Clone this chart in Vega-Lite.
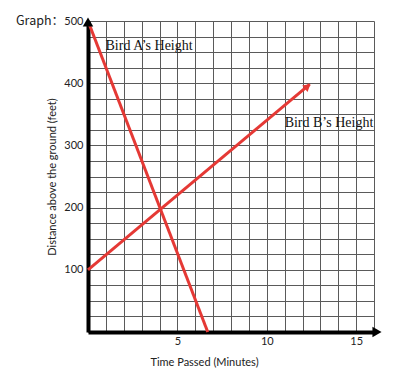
{
  "$schema": "https://vega.github.io/schema/vega-lite/v6.json",
  "width": 286,
  "height": 311,
  "autosize": {"type": "none"},
  "padding": {"left": 88, "top": 21, "right": 41, "bottom": 42},
  "background": "white",
  "title": {"text": "Graph：", "anchor": "start", "frame": "group", "dx": -72, "offset": -18, "fontSize": 12.5, "fontWeight": "normal", "font": "Noto Sans CJK SC", "color": "#222", "baseline": "middle"},
  "config": {
    "view": {"stroke": null},
    "axis": {"grid": true, "gridColor": "#5a5a5a", "gridWidth": 1, "gridOpacity": 1,
      "domainColor": "#000", "domainWidth": 4, "ticks": false,
      "labelFont": "Lato", "labelFontSize": 11, "labelColor": "#222", "labelPadding": 5, "labelOverlap": false,
      "titleFont": "Lato", "titleFontSize": 11, "titleFontWeight": "normal", "titleColor": "#222"}
  },
  "datasets": {
    "lines": [
      {"bird": "A", "t": 0, "h": 500},
      {"bird": "A", "t": 6.7, "h": 0},
      {"bird": "B", "t": 0, "h": 100},
      {"bird": "B", "t": 12.4, "h": 398}
    ],
    "labels": [
      {"label": "Bird A’s Height", "t": 0.98, "h": 460},
      {"label": "Bird B’s Height", "t": 11.0, "h": 336}
    ]
  },
  "encoding": {
    "x": {"field": "t", "type": "quantitative",
      "scale": {"domain": [0, 16], "nice": false, "zero": false},
      "axis": {"values": [0,1,2,3,4,5,6,7,8,9,10,11,12,13,14,15,16],
        "labelExpr": "datum.value % 5 === 0 && datum.value > 0 ? datum.label : ''",
        "labelPadding": 3,
        "title": "Time Passed (Minutes)", "titleX": 116, "titleY": 30, "titleBaseline": "middle", "titleAlign": "center"}},
    "y": {"field": "h", "type": "quantitative",
      "scale": {"domain": [0, 500], "nice": false},
      "axis": {"values": [0,25,50,75,100,125,150,175,200,225,250,275,300,325,350,375,400,425,450,475,500],
        "labelExpr": "datum.value % 100 === 0 && datum.value > 0 ? datum.label : ''",
        "title": "Distance above the ground (feet)", "titlePadding": 6}}
  },
  "layer": [
    {
      "data": {"name": "lines"},
      "mark": {"type": "line", "color": "#e53935", "strokeWidth": 3, "clip": false},
      "encoding": {"detail": {"field": "bird"}}
    },
    {
      "data": {"name": "lines"},
      "transform": [{"filter": "datum.bird === 'B' && datum.t > 0"}],
      "mark": {"type": "point", "shape": "triangle-up", "filled": true, "color": "#e53935", "size": 70, "angle": 50, "opacity": 1, "clip": false, "xOffset": -2, "yOffset": 2}
    },
    {
      "data": {"name": "lines"},
      "transform": [{"filter": "datum.bird === 'A' && datum.t === 0"}],
      "mark": {"type": "point", "shape": "triangle-up", "filled": true, "color": "#000", "size": 110, "opacity": 1, "clip": false, "yOffset": 1}
    },
    {
      "data": {"name": "lines"},
      "transform": [{"filter": "datum.bird === 'A' && datum.h === 0"}],
      "mark": {"type": "point", "shape": "triangle-right", "filled": true, "color": "#000", "size": 110, "opacity": 1, "clip": false, "xOffset": {"expr": "width - scale('x', 6.7) + 3"}}
    },
    {
      "data": {"name": "labels"},
      "mark": {"type": "text", "font": "Liberation Serif", "fontSize": 14, "color": "#111", "align": "left", "baseline": "middle"},
      "encoding": {"text": {"field": "label"}}
    }
  ]
}
